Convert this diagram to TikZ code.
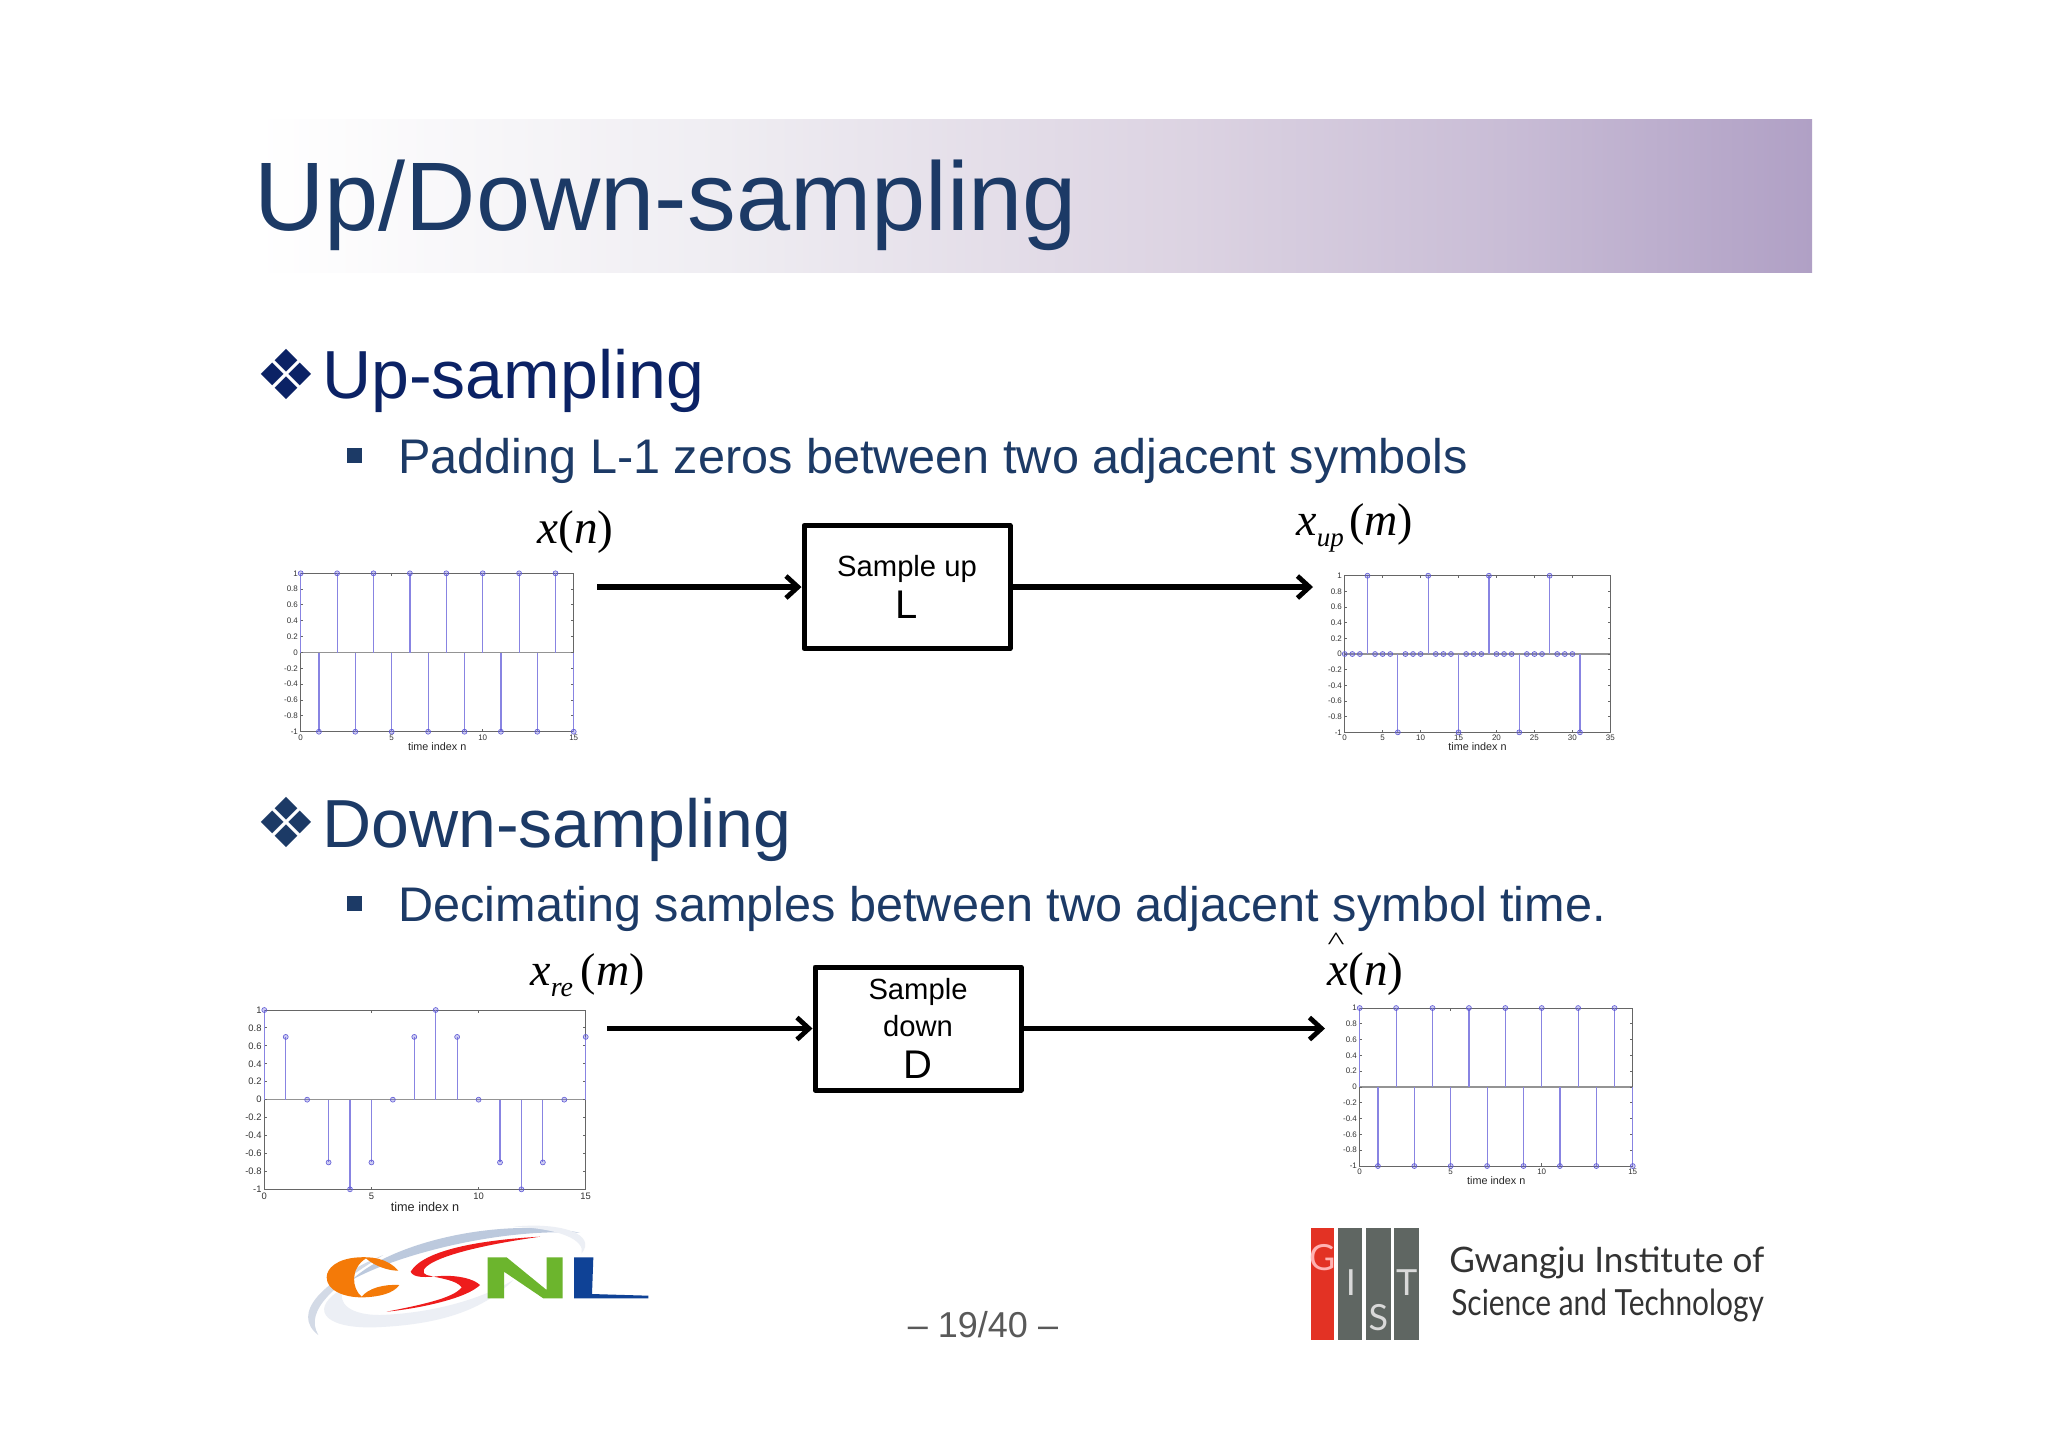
\documentclass[tikz,border=0pt]{standalone}
\usepackage{fontspec}
\usepackage{tikz}
\usetikzlibrary{arrows.meta}
\setmainfont{Liberation Sans}
\newfontfamily\sigfont{Liberation Serif}
\newfontfamily\bulletfont{DejaVu Sans}
\newfontfamily\gistfont{Lato}
\newcommand{\fs}[1]{\fontsize{#1}{#1}\selectfont}
\definecolor{titlenavy}{HTML}{1C3A66}
\definecolor{headnavy}{HTML}{0B2265}
\definecolor{stemblue}{HTML}{8884E2}
\definecolor{dotblue}{HTML}{5F5AD6}
\definecolor{axisgray}{HTML}{666666}
\definecolor{gistred}{HTML}{E33224}
\definecolor{gistgray}{HTML}{5F6662}
\definecolor{bandpale}{HTML}{EFEDF2}
\definecolor{bandmid}{HTML}{DCD3E2}
\definecolor{bandhigh}{HTML}{C9BDD6}
\definecolor{bandend}{HTML}{B0A0C5}
\definecolor{logoorange}{HTML}{F47A08}
\definecolor{logored}{HTML}{EE1C1C}
\definecolor{logogreen}{HTML}{6CB52D}
\definecolor{logoblue}{HTML}{0F4296}
\definecolor{swooshdark}{HTML}{BCC9DD}
\definecolor{swooshmid}{HTML}{D3DAE6}
\definecolor{swooshpale}{HTML}{ECEFF5}
\pgfdeclarehorizontalshading{titleband}{100bp}{color(0bp)=(white); color(25bp)=(white); color(40bp)=(bandpale); color(55bp)=(bandmid); color(65bp)=(bandhigh); color(75bp)=(bandend); color(100bp)=(bandend)}
\tikzset{
    blockbox/.style={draw=black,line width=2.5pt,line join=round,minimum width=103pt,minimum height=61.5pt,align=center},
    flowarrow/.style={line width=2.6pt,-{Straight Barb[length=6pt,width=11pt,line width=2.4pt]}},
    textnode/.style={anchor=base west},
    stemline/.style={stemblue,line width=0.6pt},
    stemdot/.style={draw=dotblue,line width=0.3pt,fill=dotblue,fill opacity=0.3},
    axisline/.style={axisgray,line width=0.5pt},
    zeroline/.style={axisgray!70,line width=0.7pt},
}
\newcommand{\stemplot}[9]{
            \pgfmathsetmacro\unitx{(#3-#2)/#6*0.5}
            \pgfmathsetmacro\unity{(#4-#5)/2*0.5}
            \pgfmathsetmacro\ticksize{#9}
            \pgfmathsetmacro\labsize{#9*1.35}
            \pgfmathsetmacro\tickdrop{#9*0.7}
            \pgfmathsetmacro\labdrop{#9*1.85}
            \begin{scope}[shift={(#2,{(#4+#5)/2})},x=\unitx pt,y=\unity pt]
            \draw [zeroline] (0,0) -- (#6,0);
            \draw [axisline] (0,-1) rectangle (#6,1);
            \foreach \yval/\ytext [count=\yi] in {1/1,0.8/0.8,0.6/0.6,0.4/0.4,0.2/0.2,0/0,-0.2/-0.2,-0.4/-0.4,-0.6/-0.6,-0.8/-0.8,-1/-1} {
                \draw [axisline] (0,\yval) -- ++(1.3pt,0);
                \draw [axisline] (#6,\yval) -- ++(-1.3pt,0);
                \node [anchor=east,text=black!80] (#1y\yi) at ([xshift=-1.2pt]0,\yval) {\fs{\ticksize}\ytext};
            }
            \foreach \xval [count=\xi] in {#7} {
                \draw [axisline] (\xval,-1) -- ++(0,1.3pt);
                \draw [axisline] (\xval,1) -- ++(0,-1.3pt);
                \node [text=black!80] (#1x\xi) at ([yshift=-\tickdrop pt]\xval,-1) {\fs{\ticksize}\xval};
            }
            \foreach \n/\v in {#8} {
                \draw [stemline] (\n,0) -- (\n,\v);
                \draw [stemdot] (\n,\v) circle (1.25pt);
            }
            \node [text=black!85] (#1label) at ([yshift=-\labdrop pt]{#6/2},-1) {\fs{\labsize}time index n};
            \end{scope}
}
\begin{document}
\begin{tikzpicture}[x=0.5pt,y=0.5pt]
            \tikzstyle{every node}+=[inner sep=0pt]
            \useasboundingbox (0,0) rectangle (2048,-1448);
            \fill [white] (0,0) rectangle (2048,-1448);
            \shade [shading=titleband] (255,-119.5) rectangle (1812,-272);
            \node [textnode,text=titlenavy] (title) at (254,-230.7) {\fs{48.7}Up/Down-sampling};
            \node [anchor=center,text=headnavy] (upmark) at (286,-374) {\bulletfont\fs{34.5}❖};
            \node [textnode,text=headnavy] (uphead) at (322,-398) {\fs{34}Up-sampling};
            \fill [titlenavy] (347,-448) rectangle (362,-463);
            \node [textnode,text=titlenavy] (uptext) at (398,-473) {\fs{24.3}Padding L-1 zeros between two adjacent symbols};
            \node [anchor=center,text=titlenavy] (downmark) at (286,-822) {\bulletfont\fs{34.5}❖};
            \node [textnode,text=titlenavy] (downhead) at (322,-847) {\fs{34}Down-sampling};
            \fill [titlenavy] (347,-896) rectangle (362,-911);
            \node [textnode,text=titlenavy] (downtext) at (398,-921) {\fs{24.3}Decimating samples between two adjacent symbol time.};
            \node [textnode] (xn) at (537,-543) {\sigfont\fs{23.6}\textit{x}(\textit{n})};
            \node [textnode] (xup) at (1296,-535.5) {\sigfont\fs{23}\textit{x}\raisebox{-5.5pt}{\fs{13.5}\textit{up}}\kern2.6pt(\textit{m})};
            \node [textnode] (xre) at (530,-985) {\sigfont\fs{23}\textit{x}\raisebox{-5.5pt}{\fs{14}\textit{re}}\,(\textit{m})};
            \node [textnode] (xhat) at (1327,-985) {\sigfont\fs{23.6}\textit{x}(\textit{n})};
            \node [yscale=0.7] (xhatmark) at (1336,-941) {\sigfont\fs{18}\textasciicircum};
            \node [blockbox] (upbox) at (907,-587) {\fs{14.6}Sample up\\[3.6pt]\fs{20}L};
            \node [blockbox] (downbox) at (918,-1028.5) {\fs{14.6}Sample\\[3.65pt]\fs{14.6}down\\[6.3pt]\fs{20}D};
            \coordinate (upin) at (597,-587);
            \coordinate (upout) at (1313,-587);
            \coordinate (downin) at (607,-1028.5);
            \coordinate (downout) at (1325,-1028.5);
            \draw [flowarrow] (upin) -- (upbox.west);
            \draw [flowarrow] (upbox.east) -- (upout);
            \draw [flowarrow] (downin) -- (downbox.west);
            \draw [flowarrow] (downbox.east) -- (downout);
            \stemplot{pa}{300.7}{573.7}{-573.3}{-731.7}{15}{0,5,10,15}{0/1,1/-1,2/1,3/-1,4/1,5/-1,6/1,7/-1,8/1,9/-1,10/1,11/-1,12/1,13/-1,14/1,15/-1}{4}
            \stemplot{pb}{1344.7}{1610.3}{-575.7}{-732.3}{35}{0,5,10,15,20,25,30,35}{0/0,1/0,2/0,3/1,4/0,5/0,6/0,7/-1,8/0,9/0,10/0,11/1,12/0,13/0,14/0,15/-1,16/0,17/0,18/0,19/1,20/0,21/0,22/0,23/-1,24/0,25/0,26/0,27/1,28/0,29/0,30/0,31/-1}{4}
            \stemplot{pc}{264.3}{585.7}{-1010}{-1189.3}{15}{0,5,10,15}{0/1,1/0.7,2/0,3/-0.7,4/-1,5/-0.7,6/0,7/0.7,8/1,9/0.7,10/0,11/-0.7,12/-1,13/-0.7,14/0,15/0.7}{4.7}
            \stemplot{pd}{1359.7}{1632.7}{-1008}{-1166}{15}{0,5,10,15}{0/1,1/-1,2/1,3/-1,4/1,5/-1,6/1,7/-1,8/1,9/-1,10/1,11/-1,12/1,13/-1,14/1,15/-1}{4}
            \begin{scope}[shift={(280,-1200)},x=0.16667pt,y=-0.16667pt]
            \fill [swooshpale] (190,265) .. controls (90,320) and (120,385) .. (280,382) .. controls (480,375) and (610,330) .. (700,240) .. controls (600,300) and (450,340) .. (300,345) .. controls (210,345) and (170,310) .. (190,265);
            \fill [swooshmid] (310,165) .. controls (130,240) and (30,340) .. (115,405) .. controls (70,330) and (170,250) .. (310,165);
            \fill [swooshdark] (900,98) .. controls (650,50) and (330,130) .. (215,240) .. controls (350,165) and (650,85) .. (900,98);
            \fill [swooshpale] (700,80) .. controls (850,65) and (950,105) .. (905,160) .. controls (915,120) and (840,85) .. (700,80);
            \fill [logoorange] (355,212) .. controls (320,172) and (270,170) .. (235,172) .. controls (170,176) and (140,205) .. (140,232) .. controls (140,270) and (190,293) .. (250,292) .. controls (300,290) and (340,280) .. (358,255) .. controls (310,252) and (265,265) .. (245,290) .. controls (215,265) and (210,205) .. (258,175) .. controls (280,195) and (320,212) .. (355,212);
            \fill [logored] (780,110) .. controls (600,120) and (430,150) .. (392,215) .. controls (400,235) and (440,232) .. (480,228) .. controls (530,225) and (580,235) .. (600,255) .. controls (560,295) and (420,325) .. (320,335) .. controls (420,315) and (520,295) .. (545,262) .. controls (530,240) and (480,235) .. (440,225) .. controls (410,215) and (430,160) .. (780,110);
            \fill [logogreen] (623,172) -- (680,172) -- (800,270) -- (800,172) -- (848,172) -- (848,295) -- (790,295) -- (672,215) -- (672,295) -- (623,295) -- cycle;
            \fill [logoblue] (882,172) -- (940,172) -- (936,282) -- (1105,287) -- (1105,295) -- (882,295) -- cycle;
            \end{scope}
            \fill [gistred] (1310.7,-1228.3) rectangle (1333.7,-1340);
            \fill [gistgray] (1337.7,-1228.3) rectangle (1362.3,-1340);
            \fill [gistgray] (1366,-1228.3) rectangle (1390.7,-1340);
            \fill [gistgray] (1394.3,-1228.3) rectangle (1419,-1340);
            \node [text=red!30!white] (gistg) at (1322.3,-1257.7) {\gistfont\fs{18}G};
            \node [text=black!15] (gisti) at (1351,-1283) {\gistfont\fs{18}I};
            \node [text=black!15] (gists) at (1378.3,-1317.7) {\gistfont\fs{18}S};
            \node [text=black!15] (gistt) at (1406.7,-1283) {\gistfont\fs{18}T};
            \node [textnode,text=black!80] (gistone) at (1449,-1272) {\gistfont\fs{17.55}Gwangju Institute of};
            \node [textnode,text=black!80,xscale=0.83] (gisttwo) at (1451,-1315) {\gistfont\fs{18}Science and Technology};
            \node [text=black!65] (pagenum) at (983,-1325) {\fs{18}– 19/40 –};
\end{tikzpicture}
\end{document}
